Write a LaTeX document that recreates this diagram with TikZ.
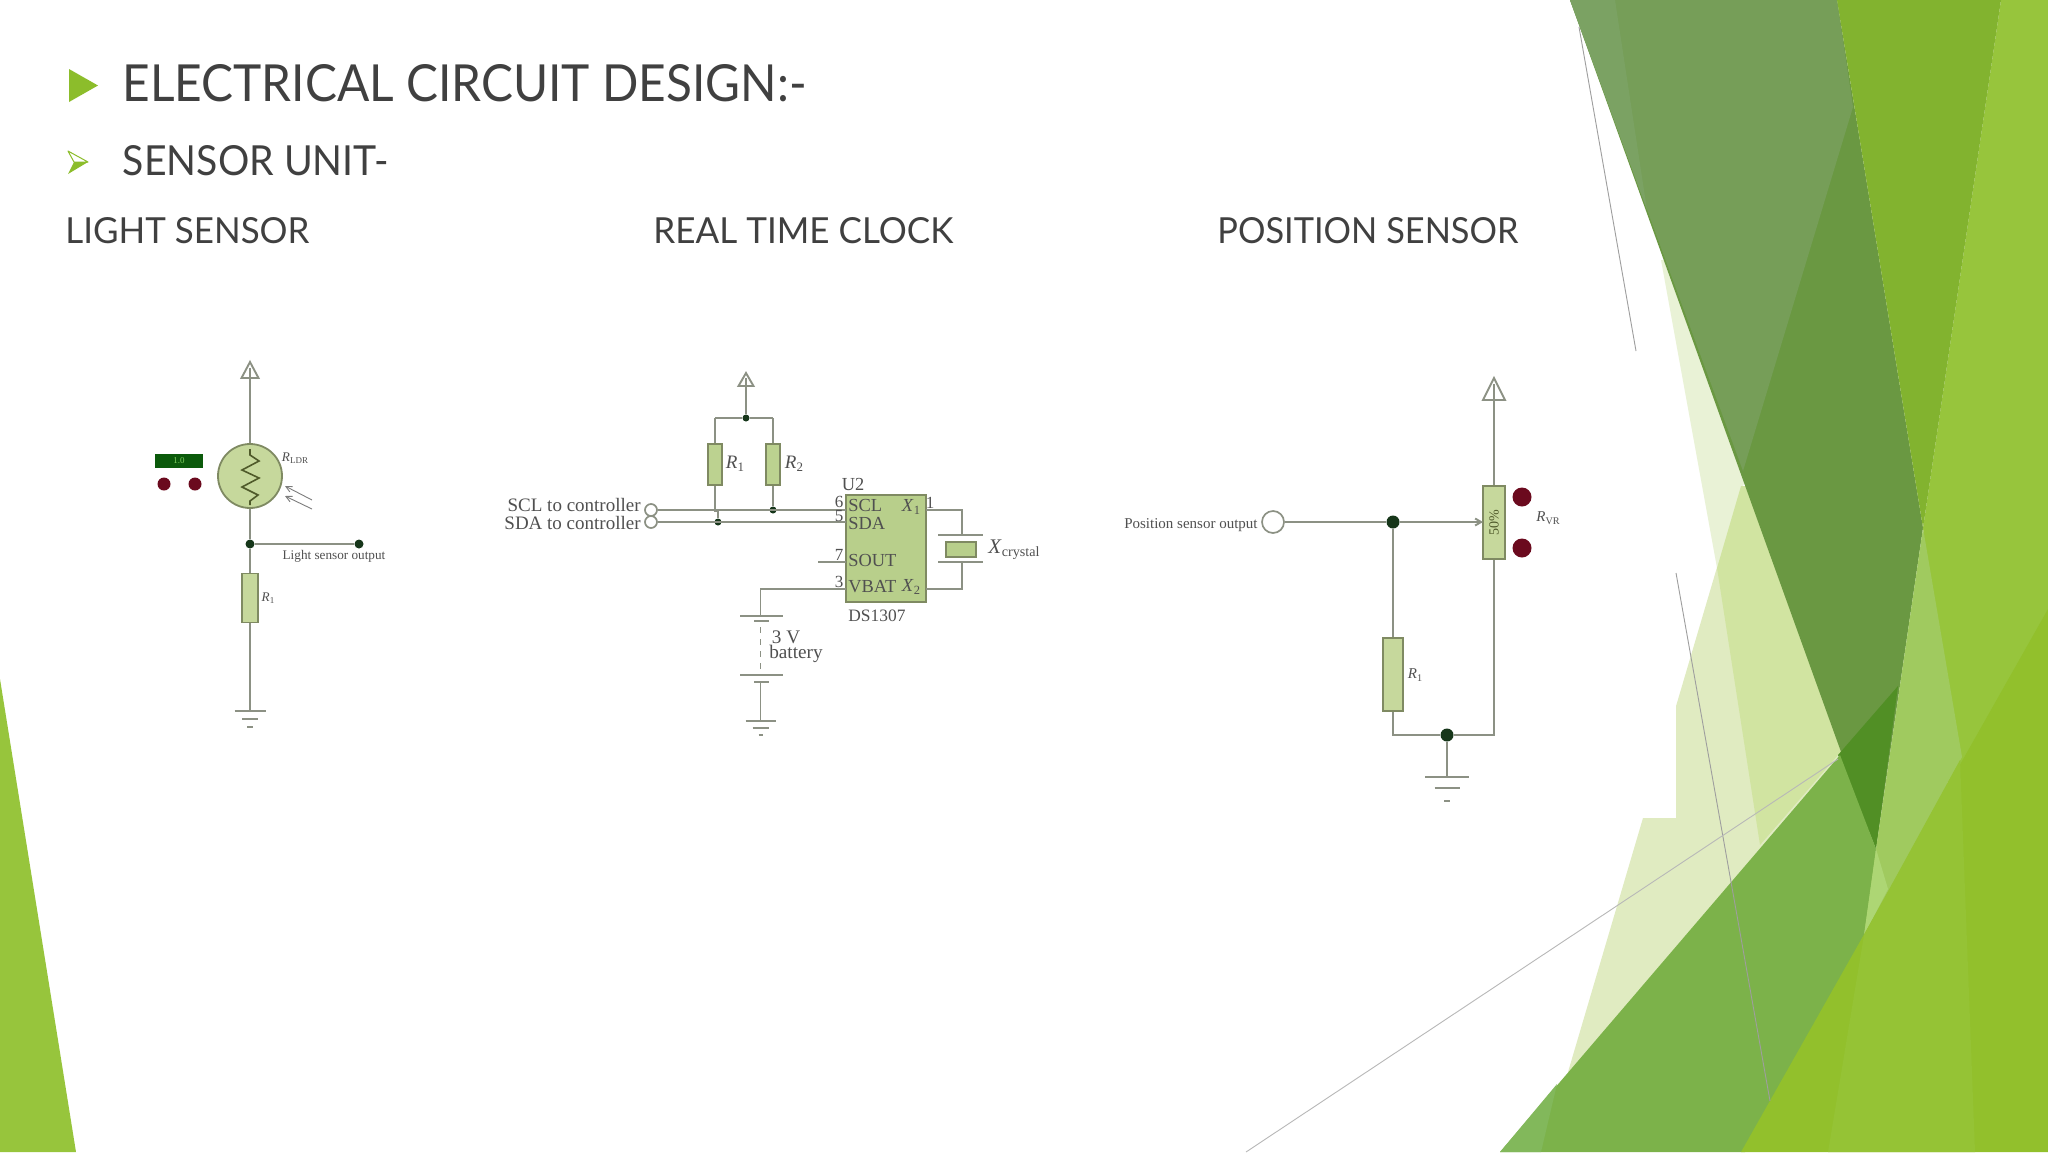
\documentclass[tikz,border=0pt]{standalone}
\usepackage{graphicx}
\usepackage{fontspec}
\setmainfont{Liberation Serif}
\newfontfamily\slidefont{Lato}
\usetikzlibrary{arrows.meta}
\definecolor{txt}{HTML}{404040}
\definecolor{ink}{HTML}{505050}
\definecolor{wirecol}{HTML}{8C9184}
\definecolor{partfill}{HTML}{C6D89C}
\definecolor{chipfill}{HTML}{B8CF8B}
\definecolor{partedge}{HTML}{7F8A62}
\definecolor{nodedot}{HTML}{16361A}
\definecolor{reddot}{HTML}{6B0A1E}
\definecolor{bul}{HTML}{8CBD2B}
\definecolor{lcdgreen}{HTML}{0B5A0B}
\definecolor{lcdtext}{HTML}{7FCF5F}
\definecolor{zig}{HTML}{4F5A2A}
\newcommand{\fitbox}[3]{\resizebox{#1pt}{#2pt}{\slidefont #3}}
\newcommand{\lab}[2]{\textit{#1}\raisebox{-.35ex}{\scalebox{.68}{#2}}}
\newcommand{\vcc}[4]{\draw[wire] (#1-#4,#3) -- (#1,#2) -- (#1+#4,#3) -- cycle;}
\newcommand{\gnd}[7]{\draw[wire] (#1-#3,#2) -- (#1+#3,#2) (#1-#5,#4) -- (#1+#5,#4) (#1-#7,#6) -- (#1+#7,#6);}
\tikzset{
  hx/.code={\definecolor{tmpc}{HTML}{#1}\tikzset{fill=tmpc}},
  wire/.style={draw=wirecol,line width=0.95pt},
  thinline/.style={draw=black!38,line width=0.45pt},
  res/.style={draw=partedge,fill=partfill,line width=0.9pt,inner sep=0pt},
  junction/.style={circle,fill=nodedot,inner sep=0pt},
  term/.style={circle,draw=wirecol,fill=white,line width=0.85pt,inner sep=0pt},
  led/.style={circle,fill=reddot,inner sep=0pt},
  serif/.style={text=ink,inner sep=0pt},
  head/.style={anchor=north west,inner sep=0pt,text=txt},
}
\begin{document}
\begin{tikzpicture}[x=0.5pt,y=-0.5pt]
\useasboundingbox (0,0) rectangle (2048,1152);
\fill[white] (0,0) rectangle (2048,1152);
% ---------- background facets ----------
\fill[hx=E0EBC1] (1741,486) -- (1568,1072) -- (1850,1072) -- (1838,755) -- cycle;
\fill[white] (1560,480) rectangle (1676,818);
\fill[hx=E9F2D6] (1661,260) -- (1720,260) -- (1800,480) -- (1745,480) -- (1717,568) -- cycle;
\fill[hx=D1E4A1] (1741,486) -- (1717,568) -- (1760,845) -- (1838,755) -- (1855,755) -- (1800,486) -- cycle;
\fill[hx=97C53C] (2001,0) -- (2048,0) -- (2048,800) -- (1950,800) -- (1923,528) -- cycle;
\fill[hx=A0CA5F] (1876,849) -- (1975,757) -- (1900,945) -- (1850,970) -- cycle;
\fill[hx=6A9842] (1570,0) -- (1837,0) -- (1923,528) -- (1876,849) -- cycle;
\fill[hx=769E58] (1570,0) -- (1837,0) -- (1853,107) -- (1743,471) -- cycle;
\fill[hx=7BA263] (1570,0) -- (1615,0) -- (1647,210) -- cycle;
\fill[hx=518F25] (1838,755) -- (1898,686) -- (1876,849) -- cycle;
\fill[hx=82B32F] (1837,0) -- (2001,0) -- (1923,528) -- cycle;
\fill[hx=7CB24A] (1500,1152) -- (1840,755) -- (1876,849) -- (1864,935) -- (1745,1152) -- cycle;
\fill[hx=82B85B] (1500,1152) -- (1541,1152) -- (1557,1084) -- cycle;
\fill[hx=A0CA5F] (1923,528) -- (1962,757) -- (1888,889) -- (1876,849) -- cycle;
\fill[hx=ADD674] (1876,849) -- (1888,889) -- (1864,935) -- cycle;
\fill[hx=92C02C] (1741,1152) -- (2048,609) -- (2048,1152) -- cycle;
\fill[hx=95C335] (1828,1152) -- (1864,935) -- (1960,760) -- (1975,1152) -- cycle;
\fill[hx=97C53C] (0,679) -- (0,1152) -- (76,1152) -- cycle;
\coordinate (la) at (1579,27);  \coordinate (lb) at (1636,351);
\coordinate (lc) at (1676,573); \coordinate (ld) at (1770,1101);
\coordinate (le) at (1246,1152);\coordinate (lf) at (1838,759);
\draw[thinline] (la) -- (lb);
\draw[thinline] (lc) -- (ld);
\draw[thinline,draw=black!28] (le) -- (lf);
% ---------- headings ----------
\fill[bul] (69,69) -- (98,85.5) -- (69,102) -- cycle;
\fill[bul] (68,174) -- (88,162) -- (74,162) -- cycle;
\draw[bul,line width=0.5pt,line join=round] (68,151) -- (88,162) -- (74,162) -- cycle;
\node[head] (title) at (122,64) {\fitbox{342}{18.5}{ELECTRICAL CIRCUIT DESIGN:-}};
\node[head] (sub)   at (122.5,145) {\fitbox{133}{15}{SENSOR UNIT-}};
\node[head] (h1)    at (65,217)  {\fitbox{122}{13}{LIGHT SENSOR}};
\node[head] (h2)    at (653,217) {\fitbox{150}{13}{REAL TIME CLOCK}};
\node[head] (h3)    at (1217,217){\fitbox{150.5}{13}{POSITION SENSOR}};
% ---------- light sensor ----------
\coordinate (ltip) at (250,368);
\node[circle,res,minimum size=32pt] (ldr) at (250,476) {};
\node[junction,minimum size=4.5pt] (lj) at (250,544) {};
\node[junction,minimum size=4.5pt] (lo) at (359,544) {};
\node[res,minimum width=8pt,minimum height=24.5pt] (lr) at (250,598) {};
\coordinate (lg) at (250,711);
\draw[wire] (ltip) -- (ldr);
\draw[wire] (ldr) -- (lj);
\draw[wire] (lj) -- (lo);
\draw[wire] (lj) -- (lr);
\draw[wire] (lr) -- (lg);
\vcc{250}{362}{378}{8.5}
\gnd{250}{711}{15.5}{719}{8}{727}{3}
\draw[draw=zig,line width=0.8pt,line join=miter]
  (250,449) -- (250,455) -- (259,461) -- (242,470) -- (259,478) -- (242,487) -- (258,495) -- (250,501) -- (250,505);
\node[fill=lcdgreen,minimum width=24pt,minimum height=7pt,inner sep=0pt] (lcd) at (179,461)
  {\fontsize{4.5}{5}\selectfont\color{lcdtext}1.0};
\node[led,minimum size=6.5pt] (d1) at (164,484) {};
\node[led,minimum size=6.5pt] (d2) at (195,484) {};
\coordinate (a1s) at (312,500); \coordinate (a1e) at (285,486);
\coordinate (a2s) at (312,509); \coordinate (a2e) at (285,496);
\draw[draw=ink!75,line width=0.45pt,-{Straight Barb[length=3pt,width=3pt]}] (a1s) -- (a1e);
\draw[draw=ink!75,line width=0.45pt,-{Straight Barb[length=3pt,width=3pt]}] (a2s) -- (a2e);
\node[serif] (rldr) at (295,458) {\fontsize{6.6}{7}\selectfont\lab{R}{LDR}};
\node[serif] (lout) at (334,556) {\fontsize{6.6}{7}\selectfont Light sensor output};
\node[serif] (lr1) at (268,598) {\fontsize{6.6}{7}\selectfont\lab{R}{1}};
% ---------- real time clock ----------
\coordinate (cvcc) at (746,378);
\node[junction,minimum size=3.5pt] (cj) at (746,418) {};
\node[res,fill=chipfill!70!partfill,minimum width=7pt,minimum height=20.5pt] (cr1) at (715,464.5) {};
\node[res,fill=chipfill!70!partfill,minimum width=7pt,minimum height=20.5pt] (cr2) at (773,464.5) {};
\node[draw=partedge,fill=chipfill,line width=0.9pt,minimum width=40pt,minimum height=53.5pt,inner sep=0pt] (chip) at (886,548.5) {};
\coordinate (pscl) at (846,510); \coordinate (psda) at (846,522);
\node[term,minimum size=6pt] (tscl) at (651,510) {};
\node[term,minimum size=6pt] (tsda) at (651,522) {};
\node[junction,minimum size=3.5pt] (jscl) at (773,510) {};
\node[junction,minimum size=3.5pt] (jsda) at (718,522) {};
\coordinate (railL) at (715,418); \coordinate (railR) at (773,418);
\coordinate (pout) at (846,562); \coordinate (poute) at (818,562);
\coordinate (pbat) at (846,589); \coordinate (bcor) at (760.5,589);
\coordinate (pb1) at (760.5,616); \coordinate (pb2) at (760.5,627);
\coordinate (pb3) at (760.5,672); \coordinate (pb4) at (760.5,682); \coordinate (pb5) at (760.5,721);
\coordinate (px1) at (926,510); \coordinate (xc1) at (962,510); \coordinate (xt) at (962,535);
\coordinate (px2) at (926,589); \coordinate (xc2) at (962,589); \coordinate (xb) at (962,562);
\draw[wire] (cvcc) -- (cj);
\draw[wire] (railL) -- (cj) -- (railR);
\draw[wire] (railL) -- (cr1);
\draw[wire] (railR) -- (cr2);
\draw[wire] (cr1.south) -- ++(0,25) -| (jsda);
\draw[wire] (cr2.south) -- (jscl);
\draw[wire] (tscl) -- (pscl);
\draw[wire] (tsda) -- (psda);
\draw[wire] (pout) -- (poute);
\draw[wire] (pbat) -- (bcor) -- (pb1);
\draw[wire,dashed] (pb2) -- (pb3);
\draw[wire] (pb4) -- (pb5);
\draw[wire] (px1) -- (xc1) -- (xt);
\draw[wire] (px2) -- (xc2) -- (xb);
\vcc{746}{373}{386}{7.5}
\draw[wire] (740,616) -- (783,616) (754,621) -- (769,621) (740,675) -- (783,675) (754,682) -- (769,682);
\gnd{760.5}{721}{15}{728}{8}{735}{2}
\draw[wire] (938,535) -- (983,535) (938,562) -- (983,562);
\node[res,fill=chipfill,minimum width=15pt,minimum height=7.5pt] (xtal) at (961,549.5) {};
\node[serif,anchor=east] (lscl) at (641,505) {\fontsize{9.5}{10}\selectfont SCL to controller};
\node[serif,anchor=east] (lsda) at (641,523) {\fontsize{9.5}{10}\selectfont SDA to controller};
\node[serif] (u2) at (853,484) {\fontsize{9.2}{10}\selectfont U2};
\node[serif,anchor=west] (c1) at (848,505) {\fontsize{9.2}{10}\selectfont SCL};
\node[serif,anchor=west] (c2) at (848,523) {\fontsize{9.2}{10}\selectfont SDA};
\node[serif,anchor=west] (c3) at (848,560) {\fontsize{9.2}{10}\selectfont SOUT};
\node[serif,anchor=west] (c4) at (848,587) {\fontsize{9.2}{10}\selectfont VBAT};
\node[serif] (c5) at (911,507) {\fontsize{9.2}{10}\selectfont\lab{X}{1}};
\node[serif] (c6) at (911,587) {\fontsize{9.2}{10}\selectfont\lab{X}{2}};
\node[serif] (n6) at (839,502) {\fontsize{8.5}{9}\selectfont 6};
\node[serif] (n5) at (839,516) {\fontsize{8.5}{9}\selectfont 5};
\node[serif] (n7) at (839,555) {\fontsize{8.5}{9}\selectfont 7};
\node[serif] (n3) at (839,582) {\fontsize{8.5}{9}\selectfont 3};
\node[serif] (n1) at (930,503) {\fontsize{8.5}{9}\selectfont 1};
\node[serif,anchor=west] (ds) at (848,616) {\fontsize{8.7}{9}\selectfont DS1307};
\node[serif,anchor=west] (xl) at (988,550) {\fontsize{10.4}{11}\selectfont\lab{X}{crystal}};
\node[serif] (v3) at (786,637) {\fontsize{9.6}{10}\selectfont 3 V};
\node[serif] (bt) at (796,654) {\fontsize{9.6}{10}\selectfont battery};
\node[serif] (clr1) at (735,464) {\fontsize{9.5}{10}\selectfont\lab{R}{1}};
\node[serif] (clr2) at (794,464) {\fontsize{9.5}{10}\selectfont\lab{R}{2}};
% ---------- position sensor ----------
\coordinate (ptip) at (1494,384);
\node[res,minimum width=11pt,minimum height=36.5pt] (rv) at (1494,522.5) {};
\node[rotate=90,inner sep=0pt,text=zig] at (rv) {\fontsize{7}{8}\selectfont 50\%};
\node[term,minimum size=11pt] (pt) at (1273,522) {};
\node[junction,minimum size=6.5pt] (pj) at (1393,522) {};
\node[res,minimum width=10pt,minimum height=36.5pt] (pr) at (1393,674.5) {};
\node[junction,minimum size=6.5pt] (pg) at (1447,735) {};
\coordinate (pcl) at (1393,735); \coordinate (pcr) at (1494,735);
\coordinate (pgb) at (1447,777);
\coordinate (pw) at (1483,522);
\draw[wire] (ptip) -- (rv);
\draw[wire] (pt) -- (pj);
\draw[wire,-{Straight Barb[length=3pt,width=3.5pt]}] (pj) -- (pw);
\draw[wire] (pj) -- (pr);
\draw[wire] (pr) -- (pcl) -- (pg);
\draw[wire] (pg) -- (pcr) -- (rv);
\draw[wire] (pg) -- (pgb);
\vcc{1494}{378}{400}{11}
\gnd{1447}{777}{22}{788}{12.5}{801}{3}
\node[led,minimum size=9.5pt] (pd1) at (1522,497) {};
\node[led,minimum size=9.5pt] (pd2) at (1522,548) {};
\node[serif] (prv) at (1548,518) {\fontsize{7.5}{8}\selectfont\lab{R}{VR}};
\node[serif] (pr1) at (1415,675) {\fontsize{7.5}{8}\selectfont\lab{R}{1}};
\node[serif,anchor=east] (pout2) at (1258,525) {\fontsize{7.5}{8}\selectfont Position sensor output};
\end{tikzpicture}
\end{document}
